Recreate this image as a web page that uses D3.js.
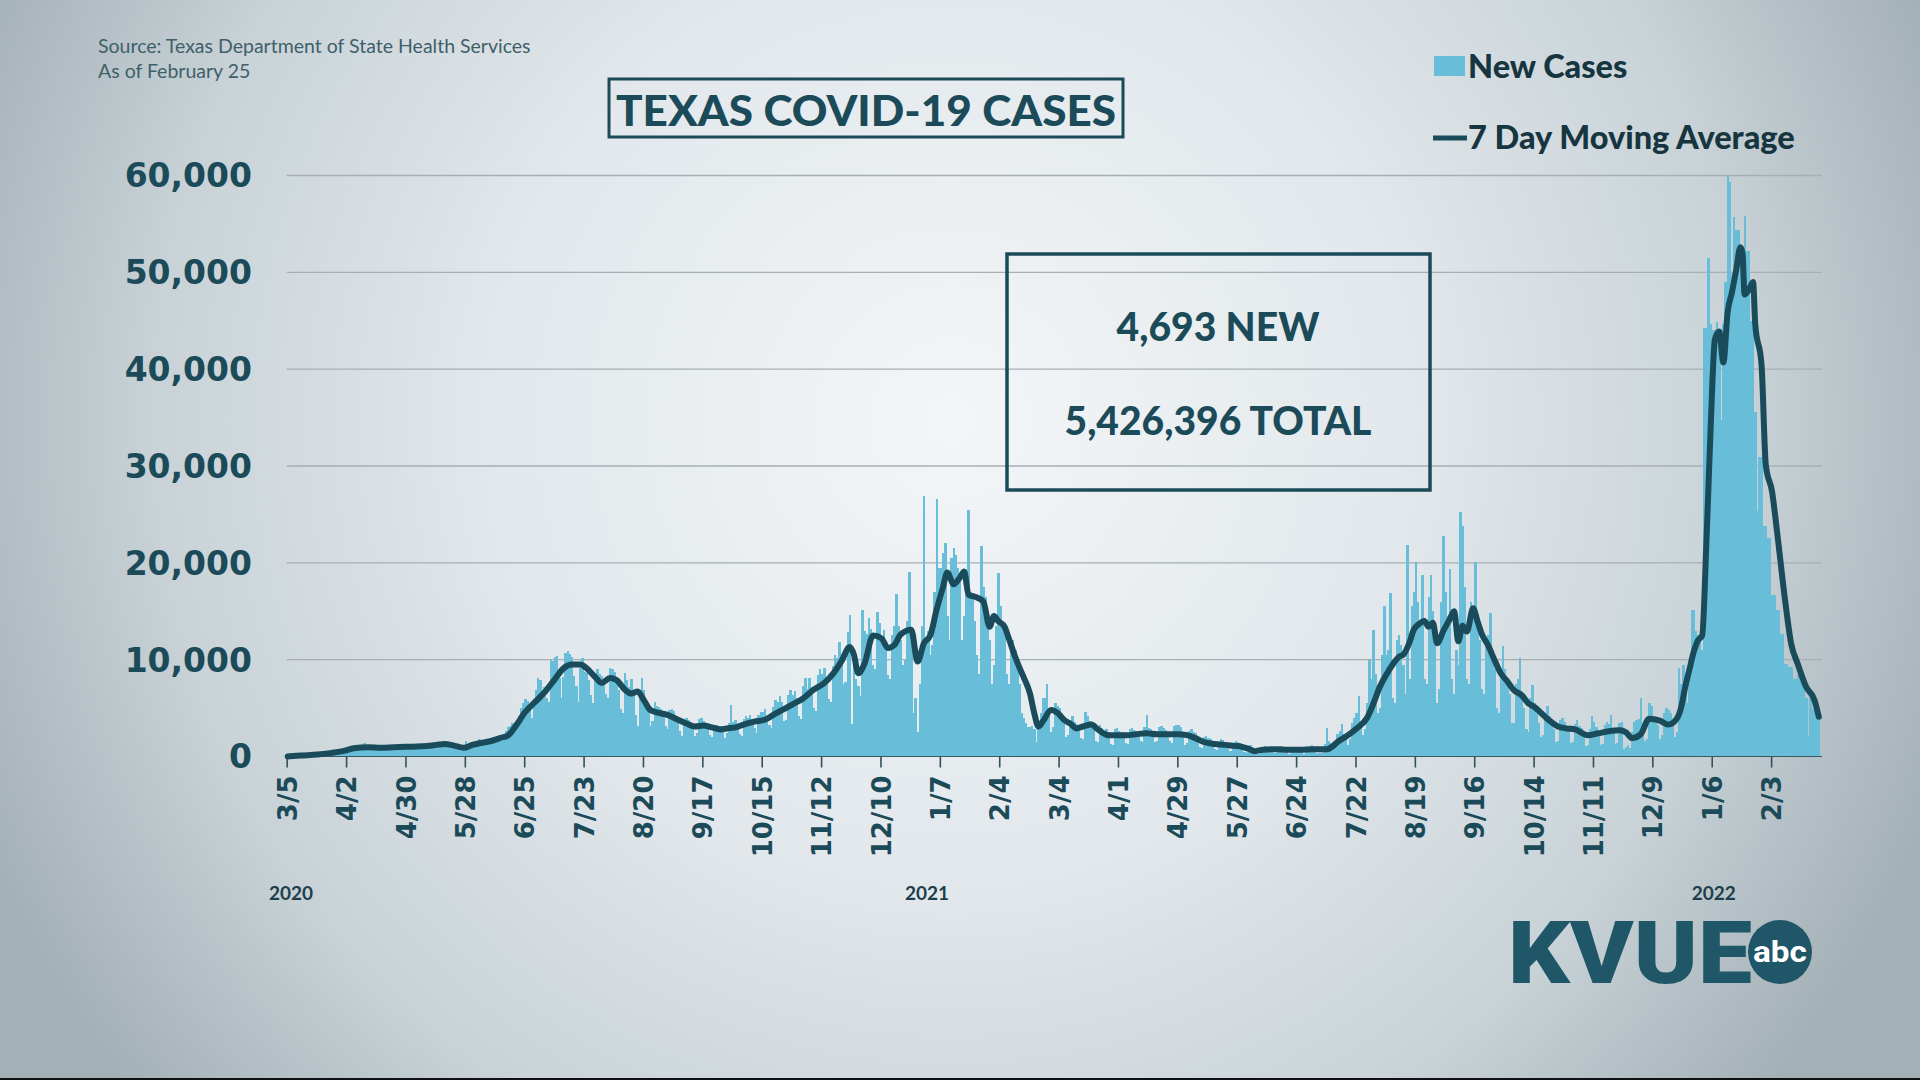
<!DOCTYPE html>
<html>
<head>
<meta charset="utf-8">
<script src="https://cdn.jsdelivr.net/npm/d3@7"></script>
<style>
  html, body { margin: 0; padding: 0; background: #dfe6ea; }
  svg { display: block; }
</style>
</head>
<body>
<svg id="chart" width="1920" height="1080"></svg>
<script>
// Texas daily new cases, thousands, one row per week (Thu..Wed)
const cases2020 = [ // from 2020-03-05
  0, 0, 0, 0, 0, 0, 0.01,
  0.01, 0.02, 0.02, 0.03, 0.05, 0.08, 0.1,
  0.13, 0.15, 0.2, 0.25, 0.3, 0.35, 0.4,
  0.45, 0.5, 0.6, 0.55, 0.6, 0.7, 0.8,
  0.85, 0.9, 0.8, 0.7, 0.9, 1.0, 1.1,
  1.2, 1.4, 0.9, 0.8, 0.9, 1.0, 0.95,
  1.0, 0.9, 0.7, 0.75, 0.9, 1.0, 1.0,
  1.0, 1.0, 0.8, 0.8, 1.0, 1.05, 1.1,
  1.1, 1.2, 1.1, 0.8, 0.9, 1.1, 1.2,
  1.1, 1.3, 1.0, 0.9, 1.0, 1.2, 1.3,
  1.4, 1.5, 1.2, 1.1, 1.0, 1.3, 1.4,
  1.2, 1.1, 0.9, 0.8, 0.7, 0.9, 1.0,
  1.6, 1.3, 1.2, 1.0, 1.1, 1.5, 1.8,
  1.6, 1.7, 1.5, 1.3, 1.4, 1.8, 2.0,
  2.0, 2.1, 2.0, 1.6, 1.8, 2.6, 3.0,
  3.1, 3.5, 3.3, 3.2, 3.8, 5.0, 5.5,
  5.9, 5.7, 5.3, 4.0, 5.5, 6.9, 8.1,
  7.9, 6.7, 7.2, 6.0, 5.6, 10.0, 9.9,
  10.3, 10.4, 8.1, 6.0, 8.2, 10.7, 10.9,
  10.6, 10.3, 8.3, 7.3, 5.6, 9.1, 10.2,
  8.7, 8.6, 7.9, 6.3, 5.5, 8.0, 9.0,
  8.5, 8.3, 7.5, 6.5, 6.0, 9.1, 9.0,
  8.7, 7.5, 6.9, 4.9, 4.5, 8.6, 7.9,
  7.2, 8.0, 6.6, 4.3, 3.2, 6.6, 8.1,
  6.9, 5.3, 4.6, 3.1, 3.7, 5.6, 5.2,
  5.1, 4.9, 4.2, 3.2, 2.8, 4.8, 4.9,
  4.7, 4.0, 3.5, 2.6, 2.1, 3.4, 4.0,
  3.8, 3.5, 3.3, 2.1, 2.4, 3.9, 4.0,
  3.7, 3.4, 2.9, 2.2, 2.0, 3.1, 3.3,
  3.2, 3.1, 2.8, 1.9, 2.4, 3.5, 5.3,
  3.6, 3.8, 3.3, 2.3, 2.1, 3.9, 4.2,
  4.0, 4.3, 3.9, 2.9, 2.4, 4.3, 4.6,
  4.6, 4.9, 4.1, 3.3, 2.9, 5.1, 5.8,
  5.6, 6.2, 5.6, 3.7, 3.8, 6.3, 6.9,
  6.3, 6.8, 6.0, 4.2, 3.9, 7.3, 8.1,
  7.0, 8.1, 7.2, 5.0, 4.7, 8.4, 9.0,
  8.5, 9.1, 7.9, 5.9, 5.6, 9.3, 10.5,
  10.2, 11.8, 10.6, 7.5, 7.7, 12.9, 14.6,
  3.4, 9.3, 8.0, 7.3, 6.2, 15.1, 13.0,
  12.6, 14.3, 13.2, 9.5, 9.0, 14.9, 13.8,
  12.4, 13.1, 11.9, 8.4, 8.0, 12.5, 13.5,
  16.8, 13.5, 12.0, 9.5, 10.0, 14.0, 19.1,
  13.0, 4.5, 6.0, 2.5, 7.5, 13.5, 26.9,
  12.0
];
const cases2021 = [ // from 2021-01-01
  13.0, 10.5, 11.5, 17.0, 26.6, 19.5,
  19.5, 21.0, 22.0, 14.5, 12.0, 20.5, 21.5,
  20.8, 19.5, 18.5, 12.0, 14.5, 19.0, 25.5,
  17.0, 16.5, 14.0, 10.5, 8.5, 21.7, 17.5,
  16.5, 14.5, 12.0, 7.5, 9.5, 13.5, 18.9,
  15.5, 14.0, 12.5, 8.5, 7.5, 11.5, 12.0,
  11.0, 10.0, 7.5, 4.5, 4.0, 3.5, 3.0,
  3.0, 3.2, 2.8, 1.5, 3.0, 4.5, 6.0,
  6.0, 7.5, 5.0, 2.5, 3.0, 5.5, 5.2,
  5.0, 4.5, 4.0, 2.0, 2.2, 3.8, 4.2,
  3.6, 3.4, 3.0, 1.9, 1.8, 4.6, 4.2,
  3.7, 3.4, 3.3, 1.6, 1.5, 3.3, 2.9,
  2.6, 2.8, 2.5, 1.3, 1.2, 2.8, 2.9,
  2.6, 2.5, 2.4, 1.4, 1.3, 2.8, 2.9,
  2.7, 2.6, 2.4, 1.6, 1.5, 3.0, 4.3,
  2.9, 2.8, 2.2, 1.5, 1.6, 3.0, 3.2,
  2.9, 2.7, 2.3, 1.6, 1.4, 3.1, 3.3,
  3.3, 3.0, 2.4, 1.2, 1.4, 2.6, 2.8,
  2.5, 2.4, 1.9, 1.0, 0.9, 2.0, 2.1,
  1.9, 1.8, 1.5, 0.8, 0.7, 1.5, 1.8,
  1.7, 1.5, 1.2, 0.6, 0.6, 1.4, 1.6,
  1.5, 1.4, 0.9, 0.5, 0.4, 0.6, 1.2,
  1.0, 0.6, 0.5, 0.3, 0.4, 0.9, 1.1,
  1.0, 0.9, 0.6, 0.4, 0.4, 0.9, 1.1,
  1.0, 0.9, 0.5, 0.3, 0.4, 0.9, 1.0,
  1.0, 0.8, 0.5, 0.3, 0.5, 0.9, 1.1,
  1.2, 0.5, 0.3, 0.4, 0.4, 1.0, 1.3,
  2.9, 1.6, 1.4, 0.9, 1.1, 2.3, 2.6,
  3.4, 2.3, 2.0, 1.2, 1.8, 3.5, 4.0,
  4.5, 6.2, 3.5, 2.2, 2.8, 5.5, 10.0,
  8.0, 13.1, 8.5, 4.5, 5.0, 10.5, 15.5,
  10.5, 11.0, 16.9, 6.0, 5.5, 12.0, 12.5,
  11.5, 9.5, 6.5, 21.8, 8.0, 15.5, 17.0,
  20.1, 16.0, 14.0, 18.7, 8.0, 7.5, 16.5,
  18.7, 15.0, 12.0, 5.5, 7.0, 16.0, 22.8,
  17.0, 14.5, 19.4, 8.0, 6.5, 11.0, 9.5,
  25.2, 23.8, 17.5, 8.0, 7.5, 16.0, 15.0,
  20.1, 14.5, 12.0, 7.0, 6.5, 11.5, 12.5,
  14.8, 10.5, 9.0, 5.0, 4.5, 9.0, 11.4,
  9.0, 7.5, 6.5, 3.5, 3.5, 7.5, 8.0,
  10.2, 6.0, 5.0, 2.8, 2.5, 6.0, 7.4,
  5.5, 4.5, 3.5, 2.0, 2.2, 4.5, 5.2,
  4.2, 3.5, 2.8, 1.5, 1.6, 3.8, 4.0,
  3.6, 3.2, 2.6, 1.4, 1.5, 3.4, 3.8,
  3.2, 2.9, 2.1, 1.1, 1.2, 2.8, 4.2,
  3.6, 3.0, 2.5, 1.2, 1.3, 3.3, 3.6,
  3.4, 4.3, 2.6, 1.3, 1.4, 3.5, 3.6,
  0.8, 1.0, 1.2, 0.9, 2.5, 3.6, 3.8,
  3.9, 6.0, 3.0, 1.6, 1.8, 5.5, 5.2,
  4.0, 3.6, 3.3, 1.8, 2.2, 4.5, 5.0,
  4.8, 4.5, 3.5, 2.0, 2.5, 9.1, 7.5,
  9.5, 8.0, 5.5, 9.0, 15.1, 15.1, 13.0,
  12.5, 12.0
];
const cases2022 = [ // from 2022-01-01
  11.0, 44.3, 44.3, 51.5, 44.7,
  44.0, 44.0, 44.9, 44.0, 34.8, 44.7, 49.0,
  60.0, 59.3, 49.8, 55.7, 54.4, 54.4, 52.2,
  47.5, 55.8, 52.2, 52.2, 45.0, 45.0, 35.6,
  25.4, 30.9, 30.9, 23.8, 23.8, 22.6, 22.6,
  16.7, 16.7, 15.1, 15.1, 12.7, 12.7, 9.6,
  9.6, 9.2, 9.2, 8.0, 8.0, 8.4, 8.4,
  8.4, 8.4, 6.0, 2.1, 6.0, 4.9, 4.9,
  4.7, 4.693
];

// 7 day moving average, read at points (days after 2020-03-05, thousands)
const avgDay = [
  0, 6, 14, 20, 27, 31, 38, 44, 50, 56, 63, 70, 74, 78, 83, 87, 91, 96, 100, 104,
  108, 112, 116, 121, 126, 130, 134, 138, 141, 145, 148, 152, 155, 159, 162, 165, 168, 171, 175, 179,
  184, 188, 192, 196, 200, 204, 207, 211, 215, 220, 225, 229, 234, 239, 243, 248, 253, 257, 261, 265,
  267, 269, 272, 276, 280, 283, 286, 289, 294, 297, 300, 303, 306, 309, 311, 314, 317, 319, 321, 324,
  328, 331, 333, 335, 338, 340, 343, 345, 347, 350, 352, 354, 356, 360, 363, 366, 369, 372, 375, 379,
  382, 387, 391, 396, 400, 405, 410, 415, 420, 424, 428, 432, 437, 442, 446, 450, 453, 456, 460, 466,
  472, 477, 484, 490, 493, 495, 500, 504, 509, 512, 515, 519, 522, 524, 526, 529, 531, 533, 536, 538,
  540, 542, 545, 548, 550, 552, 554, 556, 559, 561, 563, 566, 569, 572, 575, 578, 582, 585, 588, 591,
  595, 599, 603, 607, 613, 618, 623, 628, 631, 634, 638, 642, 647, 651, 655, 657, 659, 661, 663, 665,
  667, 669, 671, 673, 675, 677, 679, 681, 683, 685, 686, 687, 689, 691, 692, 695, 697, 700, 702, 706,
  709, 712, 716, 720, 722
];
const avgValue = [
  0, 0.1, 0.2, 0.35, 0.6, 0.85, 0.95, 0.9, 0.95, 1.0, 1.05, 1.2, 1.3, 1.15, 0.9, 1.2, 1.4, 1.6, 1.9, 2.2,
  3.3, 4.6, 5.5, 6.6, 8.0, 9.1, 9.5, 9.5, 9.1, 8.2, 7.6, 8.1, 7.9, 6.9, 6.5, 6.7, 5.8, 4.8, 4.5, 4.3,
  3.8, 3.4, 3.1, 3.2, 3.0, 2.8, 2.9, 3.0, 3.3, 3.6, 3.8, 4.3, 4.9, 5.5, 6.0, 6.9, 7.6, 8.5, 9.8, 11.3,
  10.5, 8.6, 9.6, 12.5, 12.2, 11.2, 11.5, 12.6, 13.1, 9.8, 11.7, 12.5, 15.2, 17.5, 19.0, 17.8, 18.5, 19.1, 16.7, 16.5,
  16.0, 13.4, 14.5, 14.0, 13.4, 12.2, 10.3, 9.2, 8.2, 6.5, 4.5, 3.1, 3.6, 4.8, 4.5, 3.8, 3.4, 2.9, 3.1, 3.3,
  2.8, 2.2, 2.2, 2.2, 2.3, 2.4, 2.3, 2.3, 2.3, 2.2, 1.9, 1.5, 1.3, 1.2, 1.1, 1.0, 0.8, 0.55, 0.7, 0.75,
  0.7, 0.7, 0.75, 0.75, 1.1, 1.5, 2.2, 2.9, 4.0, 5.5, 7.2, 8.8, 9.8, 10.3, 10.5, 11.8, 13.1, 13.6, 14.0, 13.4,
  13.8, 11.7, 13.0, 14.2, 15.0, 11.9, 13.5, 12.9, 15.3, 14.0, 12.7, 11.5, 10.0, 8.6, 7.8, 6.9, 6.3, 5.5, 5.1, 4.5,
  3.7, 3.1, 2.9, 2.8, 2.2, 2.4, 2.6, 2.7, 2.5, 1.9, 2.3, 3.9, 3.7, 3.3, 3.9, 5.0, 7.2, 9.0, 10.8, 12.0,
  12.5, 22.2, 34.0, 43.1, 43.9, 40.7, 45.9, 47.9, 50.2, 52.6, 52.0, 47.7, 48.2, 49.0, 44.7, 40.4, 30.1, 27.3, 23.8, 16.3,
  11.6, 9.6, 7.2, 5.8, 4.1
];

const tickDates = [
  '2020-03-05', '2020-04-02', '2020-04-30', '2020-05-28', '2020-06-25', '2020-07-23', '2020-08-20',
  '2020-09-17', '2020-10-15', '2020-11-12', '2020-12-10', '2021-01-07', '2021-02-04', '2021-03-04',
  '2021-04-01', '2021-04-29', '2021-05-27', '2021-06-24', '2021-07-22', '2021-08-19', '2021-09-16',
  '2021-10-14', '2021-11-11', '2021-12-09', '2022-01-06', '2022-02-03'
];
const yTicks = [0, 10000, 20000, 30000, 40000, 50000, 60000];
const yearLabels = ['2020', '2021', '2022'];
const yearDates = ['2020-03-07', '2021-01-01', '2022-01-07'];
const legendLabels = ['New Cases', '7 Day Moving Average'];
const summaryLines = ['4,693 NEW', '5,426,396 TOTAL'];
const sourceLines = ['Source: Texas Department of State Health Services', 'As of February 25'];

// ---------- setup ----------
const W = 1920, H = 1080;
const PLOT = { left: 286.7, right: 1822, top: 175.5, bottom: 756.5 };
const BAR = '#68bed9', DARK = '#1b4a59', LINE = '#1a4b5a';
const BOLD = '"DejaVu Sans", sans-serif';
const SANS = 'Lato, "Open Sans", sans-serif';

const parse = d3.utcParse('%Y-%m-%d');
const start = parse('2020-03-05');

const daily = [['2020-03-05', cases2020], ['2021-01-01', cases2021], ['2022-01-01', cases2022]]
  .flatMap(([s, vals]) => vals.map((v, i) => ({ date: d3.utcDay.offset(parse(s), i), value: v * 1000 })));
const avg = avgDay.map((d, i) => ({ date: d3.utcDay.offset(start, d), value: avgValue[i] * 1000 }));

const x = d3.scaleUtc().domain([start, parse('2022-02-27')]).range([PLOT.left, PLOT.right]);
const y = d3.scaleLinear().domain([0, 60000]).range([PLOT.bottom, PLOT.top]);
const step = x(d3.utcDay.offset(start, 1)) - x(start);

const svg = d3.select('#chart');

// background
const defs = svg.append('defs');
const grad = defs.append('radialGradient').attr('id', 'bg')
  .attr('gradientUnits', 'userSpaceOnUse')
  .attr('cx', 950).attr('cy', 420).attr('r', 1060);
[[0, '#f3f6f8'], [0.45, '#e1e7eb'], [0.75, '#c8d2d7'], [1, '#a3b0b6']]
  .forEach(([o, c]) => grad.append('stop').attr('offset', o).attr('stop-color', c));
svg.append('rect').attr('width', W).attr('height', H).attr('fill', 'url(#bg)');
svg.append('rect').attr('y', H - 2).attr('width', W).attr('height', 2).attr('fill', '#0d1113');

// gridlines
svg.append('g').selectAll('line').data(yTicks.filter(d => d > 0)).join('line')
  .attr('x1', PLOT.left).attr('x2', PLOT.right)
  .attr('y1', d => y(d)).attr('y2', d => y(d))
  .attr('stroke', '#a7afb3').attr('stroke-width', 1.3);

// y labels
svg.append('g').selectAll('text').data(yTicks).join('text')
  .attr('x', 252).attr('y', d => y(d)).attr('dy', '0.36em')
  .attr('text-anchor', 'end')
  .attr('font-family', BOLD).attr('font-weight', 700).attr('font-size', 33)
  .attr('fill', DARK)
  .text(d3.format(','));

// bars
svg.append('g').selectAll('rect').data(daily).join('rect')
  .attr('x', d => x(d.date))
  .attr('y', d => y(d.value))
  .attr('width', step + 0.35)
  .attr('height', d => y(0) - y(d.value))
  .attr('fill', BAR)
  .attr('shape-rendering', 'crispEdges');

// baseline + ticks
svg.append('line').attr('x1', PLOT.left).attr('x2', PLOT.right)
  .attr('y1', y(0)).attr('y2', y(0)).attr('stroke', '#3b5762').attr('stroke-width', 1.2);

const gx = svg.append('g').attr('transform', `translate(0,${y(0)})`)
  .call(d3.axisBottom(x)
    .tickValues(tickDates.map(parse))
    .tickFormat(d3.utcFormat('%-m/%-d'))
    .tickSize(11).tickSizeOuter(0));
gx.select('.domain').remove();
gx.selectAll('.tick line').attr('stroke', '#34505b').attr('stroke-width', 1.6);
gx.selectAll('.tick text')
  .attr('transform', 'rotate(-90)')
  .attr('text-anchor', 'end')
  .attr('x', -19).attr('y', 0).attr('dy', '0.37em')
  .attr('font-family', BOLD).attr('font-weight', 700).attr('font-size', 26)
  .attr('fill', DARK);

// year labels
svg.append('g').selectAll('text').data(yearLabels).join('text')
  .attr('x', (d, i) => x(parse(yearDates[i])))
  .attr('y', 900)
  .attr('text-anchor', 'middle')
  .attr('font-family', SANS).attr('font-weight', 700).attr('font-size', 19)
  .attr('fill', '#1d3f4b')
  .text(d => d);

// moving average
svg.append('path').datum(avg)
  .attr('d', d3.line().x(d => x(d.date) + step / 2).y(d => y(d.value)).curve(d3.curveMonotoneX))
  .attr('fill', 'none')
  .attr('stroke', LINE).attr('stroke-width', 6)
  .attr('stroke-linejoin', 'round').attr('stroke-linecap', 'round');

// source
svg.append('g').selectAll('text').data(sourceLines).join('text')
  .attr('x', 98).attr('y', (d, i) => 53 + i * 24.5)
  .attr('font-family', SANS).attr('font-size', 19.5)
  .attr('fill', '#3f5f6a')
  .text(d => d);

// title box
svg.append('rect').attr('x', 609).attr('y', 79).attr('width', 514).attr('height', 58)
  .attr('fill', 'none').attr('stroke', DARK).attr('stroke-width', 3);
svg.append('text').attr('x', 866).attr('y', 126)
  .attr('text-anchor', 'middle')
  .attr('font-family', SANS).attr('font-weight', 900).attr('font-size', 42)
  .attr('textLength', 500).attr('lengthAdjust', 'spacingAndGlyphs')
  .attr('fill', DARK)
  .text('TEXAS COVID-19 CASES');

// legend
svg.append('rect').attr('x', 1434).attr('y', 56).attr('width', 31).attr('height', 20).attr('fill', BAR);
svg.append('line').attr('x1', 1433).attr('x2', 1467).attr('y1', 138).attr('y2', 138)
  .attr('stroke', LINE).attr('stroke-width', 5);
svg.append('g').selectAll('text').data(legendLabels).join('text')
  .attr('x', 1468).attr('y', (d, i) => 78 + i * 71)
  .attr('font-family', SANS).attr('font-weight', 900).attr('font-size', 32.5)
  .attr('fill', '#17353f')
  .text(d => d);

// summary box
svg.append('rect').attr('x', 1007).attr('y', 254).attr('width', 423).attr('height', 236)
  .attr('fill', 'none').attr('stroke', DARK).attr('stroke-width', 3.5);
svg.append('g').selectAll('text').data(summaryLines).join('text')
  .attr('x', 1218).attr('y', (d, i) => 341 + i * 94)
  .attr('text-anchor', 'middle')
  .attr('font-family', SANS).attr('font-weight', 900).attr('font-size', 39)
  .attr('fill', DARK)
  .text(d => d);

// logo
const logo = svg.append('g');
logo.append('text').attr('x', 1508).attr('y', 983)
  .attr('font-family', 'Roboto, sans-serif').attr('font-weight', 900).attr('font-size', 87)
  .attr('textLength', 244).attr('lengthAdjust', 'spacingAndGlyphs')
  .attr('fill', '#1f5668')
  .text('KVUE');
logo.append('circle').attr('cx', 1780).attr('cy', 952).attr('r', 32).attr('fill', '#1f5668');
logo.append('text').attr('x', 1780).attr('y', 952).attr('dy', '0.33em')
  .attr('text-anchor', 'middle')
  .attr('font-family', 'Roboto, sans-serif').attr('font-weight', 700).attr('font-size', 29)
  .attr('textLength', 54).attr('lengthAdjust', 'spacingAndGlyphs')
  .attr('fill', '#ffffff')
  .text('abc');
</script>
</body>
</html>
